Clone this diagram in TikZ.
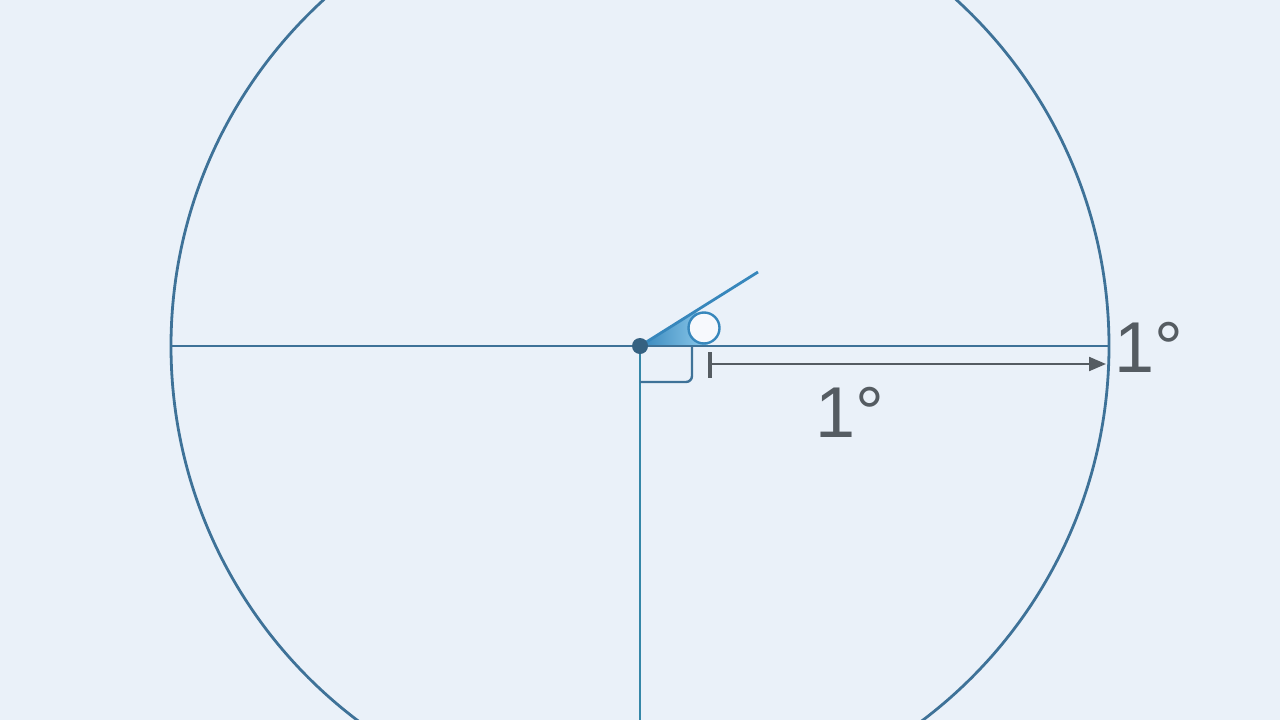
\documentclass[tikz,border=0pt]{standalone}
\usepackage{fontspec}
\setmainfont{Liberation Sans}
\usetikzlibrary{arrows.meta}
\definecolor{fond}{HTML}{EAF1F9}
\definecolor{trait}{HTML}{3E7298}
\definecolor{bleu}{HTML}{3787BC}
\definecolor{clair}{HTML}{5FB4E4}
\definecolor{gris}{HTML}{555C62}
\tikzset{
    ligne/.style={trait, line width=2.8pt},
    cote/.style={gris, line width=2.2pt},
    etiquette/.style={gris, font=\fontsize{72}{78}\selectfont}
}
\begin{document}
\begin{tikzpicture}[x=1pt, y=-1pt]

    \fill [fond] (0,0) rectangle (1280,720);
    \useasboundingbox (0,0) rectangle (1280,720);

    \coordinate (O) at (640,346);
    \coordinate (G) at (171,346);
    \coordinate (D) at (1108,346);
    \coordinate (B) at (640,730);
    \coordinate (R) at (758,272);

    \draw [ligne] (O) circle (469);
    \draw [ligne] (G) -- (D);
    \draw [ligne, trait!85!cyan] (O) -- (B);

    % angle
    \coordinate (A1) at (696,311);
    \coordinate (A2) at (708,346);
    \shade [left color=bleu, right color=clair!70!white] (O) -- (A1) -- (A2) -- cycle;
    \draw [ligne] (O) -- (D);
    \draw [bleu, line width=2.8pt] (O) -- (R);
    \draw [bleu, line width=2.4pt, fill=fond!40!white] (704,328) circle (15.5);

    % angle droit
    \coordinate (C1) at (640,382);
    \coordinate (C2) at (692,382);
    \coordinate (C3) at (692,347);
    \draw [ligne, line width=2.4pt, rounded corners=6pt] (C1) -- (C2) -- (C3);

    \fill [trait!85!black] (O) circle (8);

    % cote du rayon
    \coordinate (M0) at (710,364);
    \coordinate (M1) at (1106,364);
    \draw [cote, -{Triangle[length=17pt, width=14pt]}] (M0) -- (M1);
    \draw [gris, line width=4.5pt] (710,352) -- (710,378);

    \node [etiquette] (rayon) at (850,412) {1°};
    \node [etiquette] (bord) at (1149,347) {1°};

\end{tikzpicture}
\end{document}
